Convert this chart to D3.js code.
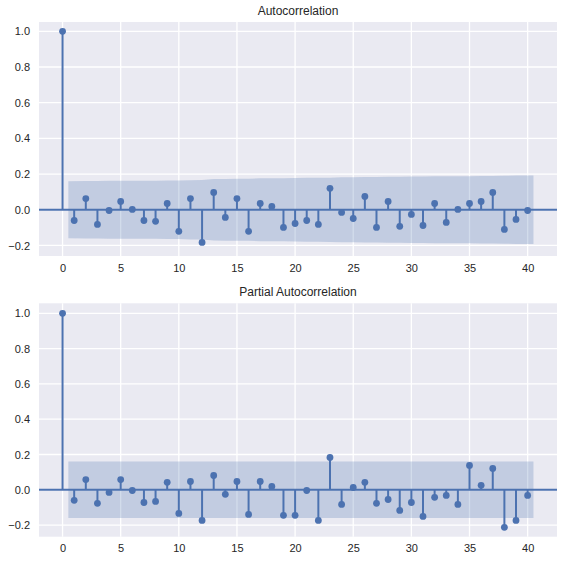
<!DOCTYPE html>
<html>
<head>
<meta charset="utf-8">
<script src="https://cdn.jsdelivr.net/npm/d3@7"></script>
<style>
  html, body { margin: 0; padding: 0; background: #ffffff; }
  svg { display: block; }
</style>
</head>
<body>
<div id="chart"></div>
<script>
// ---- data ----
const lags = d3.range(0, 41);
const acfValues = [1.0, -0.060, 0.063, -0.082, -0.004, 0.047, 0.002, -0.060, -0.065, 0.035,
  -0.121, 0.063, -0.183, 0.097, -0.043, 0.063, -0.121, 0.035, 0.019, -0.099,
  -0.077, -0.060, -0.082, 0.120, -0.015, -0.049, 0.075, -0.099, 0.047, -0.093,
  -0.026, -0.088, 0.035, -0.071, 0.002, 0.035, 0.047, 0.097, -0.110, -0.054, -0.004];
// half width of the ACF confidence band at lags 1..40
const acfBand = [0.160, 0.161, 0.161, 0.162, 0.162, 0.163, 0.163, 0.163, 0.164, 0.164,
  0.166, 0.167, 0.172, 0.173, 0.174, 0.174, 0.176, 0.177, 0.177, 0.178,
  0.179, 0.179, 0.180, 0.182, 0.182, 0.183, 0.184, 0.185, 0.185, 0.186,
  0.186, 0.188, 0.188, 0.188, 0.188, 0.189, 0.189, 0.190, 0.192, 0.192];
const pacfValues = [1.0, -0.060, 0.058, -0.077, -0.015, 0.058, -0.004, -0.072, -0.066, 0.042,
  -0.134, 0.047, -0.174, 0.081, -0.026, 0.047, -0.140, 0.047, 0.019, -0.145,
  -0.145, -0.004, -0.174, 0.183, -0.083, 0.013, 0.042, -0.077, -0.055, -0.117,
  -0.072, -0.151, -0.043, -0.032, -0.083, 0.138, 0.025, 0.121, -0.213, -0.174, -0.032];
const pacfBand = [0.160, 0.160, 0.160, 0.160, 0.160, 0.160, 0.160, 0.160, 0.160, 0.160,
  0.160, 0.160, 0.160, 0.160, 0.160, 0.160, 0.160, 0.160, 0.160, 0.160,
  0.160, 0.160, 0.160, 0.160, 0.160, 0.160, 0.160, 0.160, 0.160, 0.160,
  0.160, 0.160, 0.160, 0.160, 0.160, 0.160, 0.160, 0.160, 0.160, 0.160];
const xTicks = [0, 5, 10, 15, 20, 25, 30, 35, 40];
const yTicks = [-0.2, 0.0, 0.2, 0.4, 0.6, 0.8, 1.0];
const titles = ["Autocorrelation", "Partial Autocorrelation"];

// ---- drawing ----
const W = 564, H = 564;
const BLUE = "#4C72B0";
const svg = d3.select("#chart").append("svg")
  .attr("width", W).attr("height", H)
  .attr("font-family", "Arial, 'Liberation Sans', sans-serif");

const panels = [
  { title: titles[0], values: acfValues, band: acfBand, top: 22, bottom: 256, ydom: [-0.259, 1.052] },
  { title: titles[1], values: pacfValues, band: pacfBand, top: 303.3, bottom: 536.7, ydom: [-0.266, 1.057] }
];
const left = 39, right = 557;

panels.forEach(p => {
  const x = d3.scaleLinear().domain([-2.025, 42.525]).range([left, right]);
  const y = d3.scaleLinear().domain(p.ydom).range([p.bottom, p.top]);
  const g = svg.append("g");

  g.append("rect").attr("x", left).attr("y", p.top)
    .attr("width", right - left).attr("height", p.bottom - p.top)
    .attr("fill", "#EAEAF2");

  // grid
  g.selectAll(".vg").data(xTicks).join("line")
    .attr("x1", d => x(d)).attr("x2", d => x(d))
    .attr("y1", p.top).attr("y2", p.bottom)
    .attr("stroke", "#ffffff").attr("stroke-width", 1.3);
  g.selectAll(".hg").data(yTicks).join("line")
    .attr("x1", left).attr("x2", right)
    .attr("y1", d => y(d)).attr("y2", d => y(d))
    .attr("stroke", "#ffffff").attr("stroke-width", 1.3);

  // axes (labels only, no ticks/domain)
  const xa = g.append("g").attr("transform", `translate(0,${p.bottom})`)
    .call(d3.axisBottom(x).tickValues(xTicks).tickSize(0).tickPadding(8).tickFormat(d3.format("d")));
  const ya = g.append("g").attr("transform", `translate(${left},0)`)
    .call(d3.axisLeft(y).tickValues(yTicks).tickSize(0).tickPadding(9)
      .tickFormat(d => d3.format(".1f")(d).replace("-", "\u2212")));
  [xa, ya].forEach(a => {
    a.select(".domain").remove();
    a.selectAll("text").attr("fill", "#262626").attr("font-size", 11)
      .attr("font-family", "Arial, 'Liberation Sans', sans-serif");
  });

  // stems
  g.selectAll(".stem").data(lags).join("line")
    .attr("x1", d => x(d)).attr("x2", d => x(d))
    .attr("y1", y(0)).attr("y2", d => y(p.values[d]))
    .attr("stroke", BLUE).attr("stroke-width", 2);
  // baseline
  g.append("line").attr("x1", left).attr("x2", right)
    .attr("y1", y(0)).attr("y2", y(0))
    .attr("stroke", BLUE).attr("stroke-width", 2);
  // markers
  g.selectAll(".mk").data(lags).join("circle")
    .attr("cx", d => x(d)).attr("cy", d => y(p.values[d])).attr("r", 3.4)
    .attr("fill", BLUE);

  // confidence band (lags 1..40, first/last shifted by half a lag)
  const bandPts = p.band.map((b, i) => {
    let lx = i + 1;
    if (i === 0) lx -= 0.5;
    if (i === p.band.length - 1) lx += 0.5;
    return { lx, b };
  });
  const area = d3.area().x(d => x(d.lx)).y0(d => y(-d.b)).y1(d => y(d.b));
  g.append("path").datum(bandPts).attr("d", area)
    .attr("fill", BLUE).attr("fill-opacity", 0.25).attr("stroke", "none");

  // title
  g.append("text").attr("x", (left + right) / 2).attr("y", p.top - 7)
    .attr("text-anchor", "middle").attr("font-size", 12).attr("fill", "#262626")
    .text(p.title);
});
</script>
</body>
</html>
